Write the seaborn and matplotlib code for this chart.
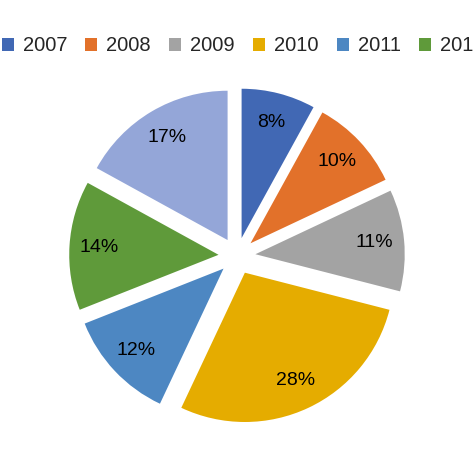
import matplotlib
matplotlib.use("Agg")
import matplotlib.pyplot as plt
import seaborn as sns

years = ["2007", "2008", "2009", "2010", "2011", "2012", "2013"]
shares = [8, 10, 11, 28, 12, 14, 17]
colors = ["#4168B4", "#E2712A", "#A3A3A3", "#E5AC00", "#4D87C2", "#5F9A3A", "#94A6D8"]

sns.set_theme(style="white")
plt.rcParams["font.family"] = ["Liberation Sans", "DejaVu Sans"]

fig = plt.figure(figsize=(4.74, 4.74), dpi=100)
ax = fig.add_axes([0.14, 0.1, 0.72, 0.72])
wedges, texts = ax.pie(shares, colors=colors, startangle=90, counterclock=False,
                       explode=[0.13] * len(shares), radius=1.05,
                       labels=[f"{v}%" for v in shares], labeldistance=0.8,
                       wedgeprops=dict(linewidth=0),
                       textprops=dict(fontsize=14, color="black", ha="center", va="center"))
ax.set_xlim(-1.2, 1.2)
ax.set_ylim(-1.2, 1.2)
ax.set_aspect("equal")
ax.axis("off")

fig.legend(wedges, years, loc="center left", bbox_to_anchor=(-0.035, 0.903),
           ncol=7, frameon=False, fontsize=14.5, handlelength=0.6, handleheight=0.6,
           handletextpad=0.45, columnspacing=0.9)
fig.savefig("out.png", dpi=100)
